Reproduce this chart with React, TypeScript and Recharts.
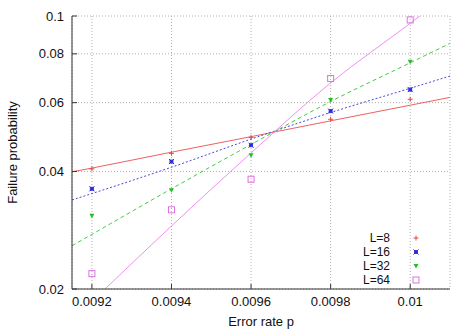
import React from 'react';
import { ComposedChart, Line, Scatter, XAxis, YAxis, CartesianGrid, Legend } from 'recharts';

// measured failure probabilities per lattice size
const errorRates = [0.0092, 0.0094, 0.0096, 0.0098, 0.01];
const failL8 = [0.0406, 0.0445, 0.0489, 0.0544, 0.0612];
const failL16 = [0.0361, 0.0424, 0.0467, 0.0571, 0.0648];
const failL32 = [0.0308, 0.0358, 0.044, 0.0609, 0.0764];
const failL64 = [0.0219, 0.0319, 0.0382, 0.0692, 0.0977];

// fitted curves
const fitRates = [0.00915, 0.0092, 0.0094, 0.0096, 0.0098, 0.01, 0.0101];
const fitL8 = [0.0399, 0.0408, 0.0448, 0.0491, 0.0539, 0.0591, 0.0619];
const fitL16 = [0.0338, 0.0351, 0.041, 0.0484, 0.0566, 0.0653, 0.0702];
const fitL32 = [0.0258, 0.0276, 0.0361, 0.0469, 0.0604, 0.0759, 0.0851];
const fitRatesL64 = [0.009233, 0.0094, 0.0096, 0.0098, 0.01, 0.010024];
const fitL64 = [0.02, 0.029, 0.0446, 0.0674, 0.0958, 0.1];

const xTicks = [0.0092, 0.0094, 0.0096, 0.0098, 0.01];
const yTicks = [0.02, 0.04, 0.06, 0.08, 0.1];

const font = '"Liberation Sans", Arial, sans-serif';

const toPoints = (xs: number[], ys: number[]) => xs.map((p, i) => ({ p, v: ys[i] }));

type MarkerKind = 'plus' | 'star' | 'tri' | 'box';

const Marker = ({ kind, cx, cy }: { kind: MarkerKind; cx: number; cy: number }) => {
  if (kind === 'plus') {
    return (
      <g stroke="#e04848" strokeWidth={1}>
        <line x1={cx - 2.5} x2={cx + 2.5} y1={cy} y2={cy} />
        <line x1={cx} x2={cx} y1={cy - 2.5} y2={cy + 2.5} />
      </g>
    );
  }
  if (kind === 'star') {
    return (
      <g stroke="#2a2ad0" strokeWidth={1}>
        <rect x={cx - 2} y={cy - 2} width={4} height={4} fill="#3a3ae0" stroke="none" />
        <line x1={cx - 2.5} x2={cx + 2.5} y1={cy - 2.5} y2={cy + 2.5} />
        <line x1={cx - 2.5} x2={cx + 2.5} y1={cy + 2.5} y2={cy - 2.5} />
      </g>
    );
  }
  if (kind === 'tri') {
    return <polygon points={`${cx - 2.5},${cy - 2} ${cx + 2.5},${cy - 2} ${cx},${cy + 2.5}`} fill="#22c022" />;
  }
  return <rect x={cx - 3} y={cy - 3} width={6} height={6} fill="none" stroke="#e070e0" strokeWidth={1} />;
};

const shapeOf = (kind: MarkerKind) => (props: any) => <Marker kind={kind} cx={props.cx} cy={props.cy} />;

const legendItems: { name: string; kind: MarkerKind }[] = [
  { name: 'L=8', kind: 'plus' },
  { name: 'L=16', kind: 'star' },
  { name: 'L=32', kind: 'tri' },
  { name: 'L=64', kind: 'box' },
];

const LegendBox = () => (
  <div style={{ fontFamily: font, fontSize: 12, color: '#111' }}>
    {legendItems.map((item) => (
      <div key={item.name} style={{ display: 'flex', alignItems: 'center', height: 14, lineHeight: '14px' }}>
        <span style={{ width: 50, textAlign: 'right' }}>{item.name}</span>
        <svg width={34} height={14}>
          <Marker kind={item.kind} cx={26} cy={7} />
        </svg>
      </div>
    ))}
  </div>
);

const YTitle = (props: any) => {
  const vb = props.viewBox || { x: 0, y: 16, width: 72, height: 273 };
  const cx = vb.x + 12;
  const cy = vb.y + vb.height / 2;
  return (
    <text
      x={cx}
      y={cy}
      transform={`rotate(-90 ${cx} ${cy})`}
      textAnchor="middle"
      dominantBaseline="central"
      fontFamily={font}
      fontSize={13}
      fill="#111"
    >
      Failure probability
    </text>
  );
};

const tickStyle = { fontSize: 13, fontFamily: font, fill: '#111' };
const frame = { stroke: '#333', strokeWidth: 1 };

export default function App() {
  return (
    <div style={{ position: 'absolute', left: 0, top: 0, width: 474, height: 331, background: '#fff' }}>
      <ComposedChart width={474} height={331} margin={{ top: 16, right: 24, left: 0, bottom: 0 }}>
        <CartesianGrid stroke="#b0b0b0" strokeDasharray="1 2" />
        <XAxis
          dataKey="p"
          type="number"
          domain={[0.00915, 0.0101]}
          ticks={xTicks}
          allowDataOverflow
          height={42}
          tick={tickStyle}
          tickSize={-5}
          tickMargin={13}
          axisLine={frame}
          tickLine={frame}
          label={{ value: 'Error rate p', position: 'insideBottom', offset: 5, fontSize: 13, fontFamily: font, fill: '#111' }}
        />
        <XAxis
          xAxisId="top"
          orientation="top"
          type="number"
          domain={[0.00915, 0.0101]}
          ticks={xTicks}
          allowDataOverflow
          height={0}
          tick={false}
          tickSize={-5}
          axisLine={frame}
          tickLine={frame}
        />
        <YAxis
          type="number"
          scale="log"
          domain={[0.02, 0.1]}
          ticks={yTicks}
          allowDataOverflow
          width={72}
          tick={tickStyle}
          tickSize={-5}
          tickMargin={13}
          axisLine={frame}
          tickLine={frame}
          label={YTitle}
        />
        <YAxis
          yAxisId="right"
          orientation="right"
          type="number"
          scale="log"
          domain={[0.02, 0.1]}
          ticks={yTicks}
          allowDataOverflow
          width={0}
          tick={false}
          tickSize={-5}
          axisLine={frame}
          tickLine={frame}
        />
        <Line data={toPoints(fitRates, fitL8)} dataKey="v" type="monotone" stroke="#f06060" strokeWidth={1} dot={false} isAnimationActive={false} />
        <Line data={toPoints(fitRates, fitL16)} dataKey="v" type="monotone" stroke="#4848e0" strokeWidth={1} strokeDasharray="2 2" dot={false} isAnimationActive={false} />
        <Line data={toPoints(fitRates, fitL32)} dataKey="v" type="monotone" stroke="#44cc44" strokeWidth={1} strokeDasharray="4 3" dot={false} isAnimationActive={false} />
        <Line data={toPoints(fitRatesL64, fitL64)} dataKey="v" type="monotone" stroke="#ee90ee" strokeWidth={1} dot={false} isAnimationActive={false} />
        <Scatter data={toPoints(errorRates, failL8)} dataKey="v" shape={shapeOf('plus')} isAnimationActive={false} />
        <Scatter data={toPoints(errorRates, failL16)} dataKey="v" shape={shapeOf('star')} isAnimationActive={false} />
        <Scatter data={toPoints(errorRates, failL32)} dataKey="v" shape={shapeOf('tri')} isAnimationActive={false} />
        <Scatter data={toPoints(errorRates, failL64)} dataKey="v" shape={shapeOf('box')} isAnimationActive={false} />
        <Legend
          layout="horizontal"
          verticalAlign="middle"
          align="center"
          content={LegendBox}
          wrapperStyle={{ left: 340, top: 231, width: 90, height: 56 }}
        />
      </ComposedChart>
    </div>
  );
}
